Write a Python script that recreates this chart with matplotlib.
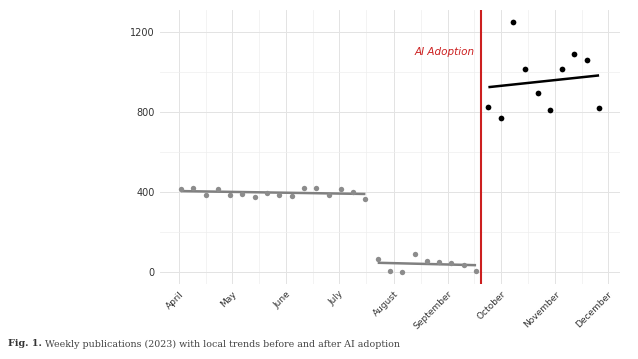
import numpy as np
import pandas as pd
import matplotlib
matplotlib.use("Agg")
import matplotlib.pyplot as plt
import matplotlib.dates as mdates

# weekly publication counts, 2023
start = "2023-04-02"
pre_vals = [415, 420, 385, 412, 385, 390, 375, 393, 385, 378, 417, 417, 382, 413, 400, 362]
gap_vals = [62, 3, 0, 90, 53, 50, 45, 35, 3]
post_vals = [823, 770, 1247, 1012, 892, 807, 1012, 1087, 1057, 818]
adoption_date = "2023-09-20"
month_labels = ["April", "May", "June", "July", "August", "September",
                "October", "November", "December"]

n_all = len(pre_vals) + len(gap_vals) + len(post_vals)
weeks = pd.date_range(start, periods=n_all, freq="7D")
d_pre = weeks[:len(pre_vals)]
d_gap = weeks[len(pre_vals):len(pre_vals) + len(gap_vals)]
d_post = weeks[len(pre_vals) + len(gap_vals):]

fig = plt.figure(figsize=(6.38, 3.59), dpi=100)
ax = fig.add_axes([160 / 638, 1 - 284 / 359, 460 / 638, 274 / 359])


def trend(ax, dates, vals, color):
    # local linear trend over one segment
    x = mdates.date2num(dates)
    k, b = np.polyfit(x, vals, 1)
    xs = np.array([x[0], x[-1]])
    ax.plot(xs, k * xs + b, color=color, lw=1.8, zorder=3, solid_capstyle="butt")


grey = "#8c8c8c"
ax.scatter(d_pre, pre_vals, s=15, color=grey, zorder=4, linewidths=0)
ax.scatter(d_gap, gap_vals, s=15, color=grey, zorder=4, linewidths=0)
ax.scatter(d_post, post_vals, s=17, color="black", zorder=4, linewidths=0)
trend(ax, d_pre, pre_vals, "#808080")
trend(ax, d_gap, gap_vals, "#808080")
trend(ax, d_post, post_vals, "black")

ad = mdates.date2num(pd.Timestamp(adoption_date))
ax.axvline(ad, color="#cc1f1f", lw=1.5, zorder=5)
ax.annotate("AI Adoption", xy=(ad, 1100), xytext=(-5, 0), textcoords="offset points",
            ha="right", va="center", color="#cc1f1f", fontsize=7.5, style="italic")

# limits with ggplot-style expansion
x0, x1 = mdates.date2num(weeks[0]), mdates.date2num(weeks[-1])
pad = (x1 - x0) * 0.05
ax.set_xlim(x0 - pad, x1 + pad)
ymax = max(post_vals)
ax.set_ylim(-0.05 * ymax, ymax * 1.05)

months = pd.date_range("2023-04-01", "2023-12-01", freq="MS")
ax.set_xticks(mdates.date2num(months))
ax.set_xticklabels(month_labels, rotation=45, ha="right", va="top",
                   rotation_mode="anchor", fontsize=6.5, color="#333333")
mids = [mdates.date2num(months[i]) + (mdates.date2num(months[i + 1]) - mdates.date2num(months[i])) / 2
        for i in range(len(months) - 1)]
ax.set_xticks(mids, minor=True)
ax.set_yticks([0, 400, 800, 1200])
ax.set_yticks([200, 600, 1000], minor=True)
ax.tick_params(axis="y", labelsize=7, labelcolor="#333333")
ax.tick_params(which="both", length=0, pad=4)

ax.grid(which="major", color="#e3e3e3", lw=0.7)
ax.grid(which="minor", color="#eeeeee", lw=0.5)
ax.set_axisbelow(True)
for s in ax.spines.values():
    s.set_visible(False)

fig.text(8 / 638, 1 - 344 / 359, "Fig. 1.", fontsize=6.9, fontweight="bold",
         family="DejaVu Serif", color="#333333", va="center")
fig.text(45 / 638, 1 - 344 / 359,
         "Weekly publications (2023) with local trends before and after AI adoption",
         fontsize=6.8, family="DejaVu Serif", color="#444444", va="center")

fig.savefig("out.png", dpi=100)
